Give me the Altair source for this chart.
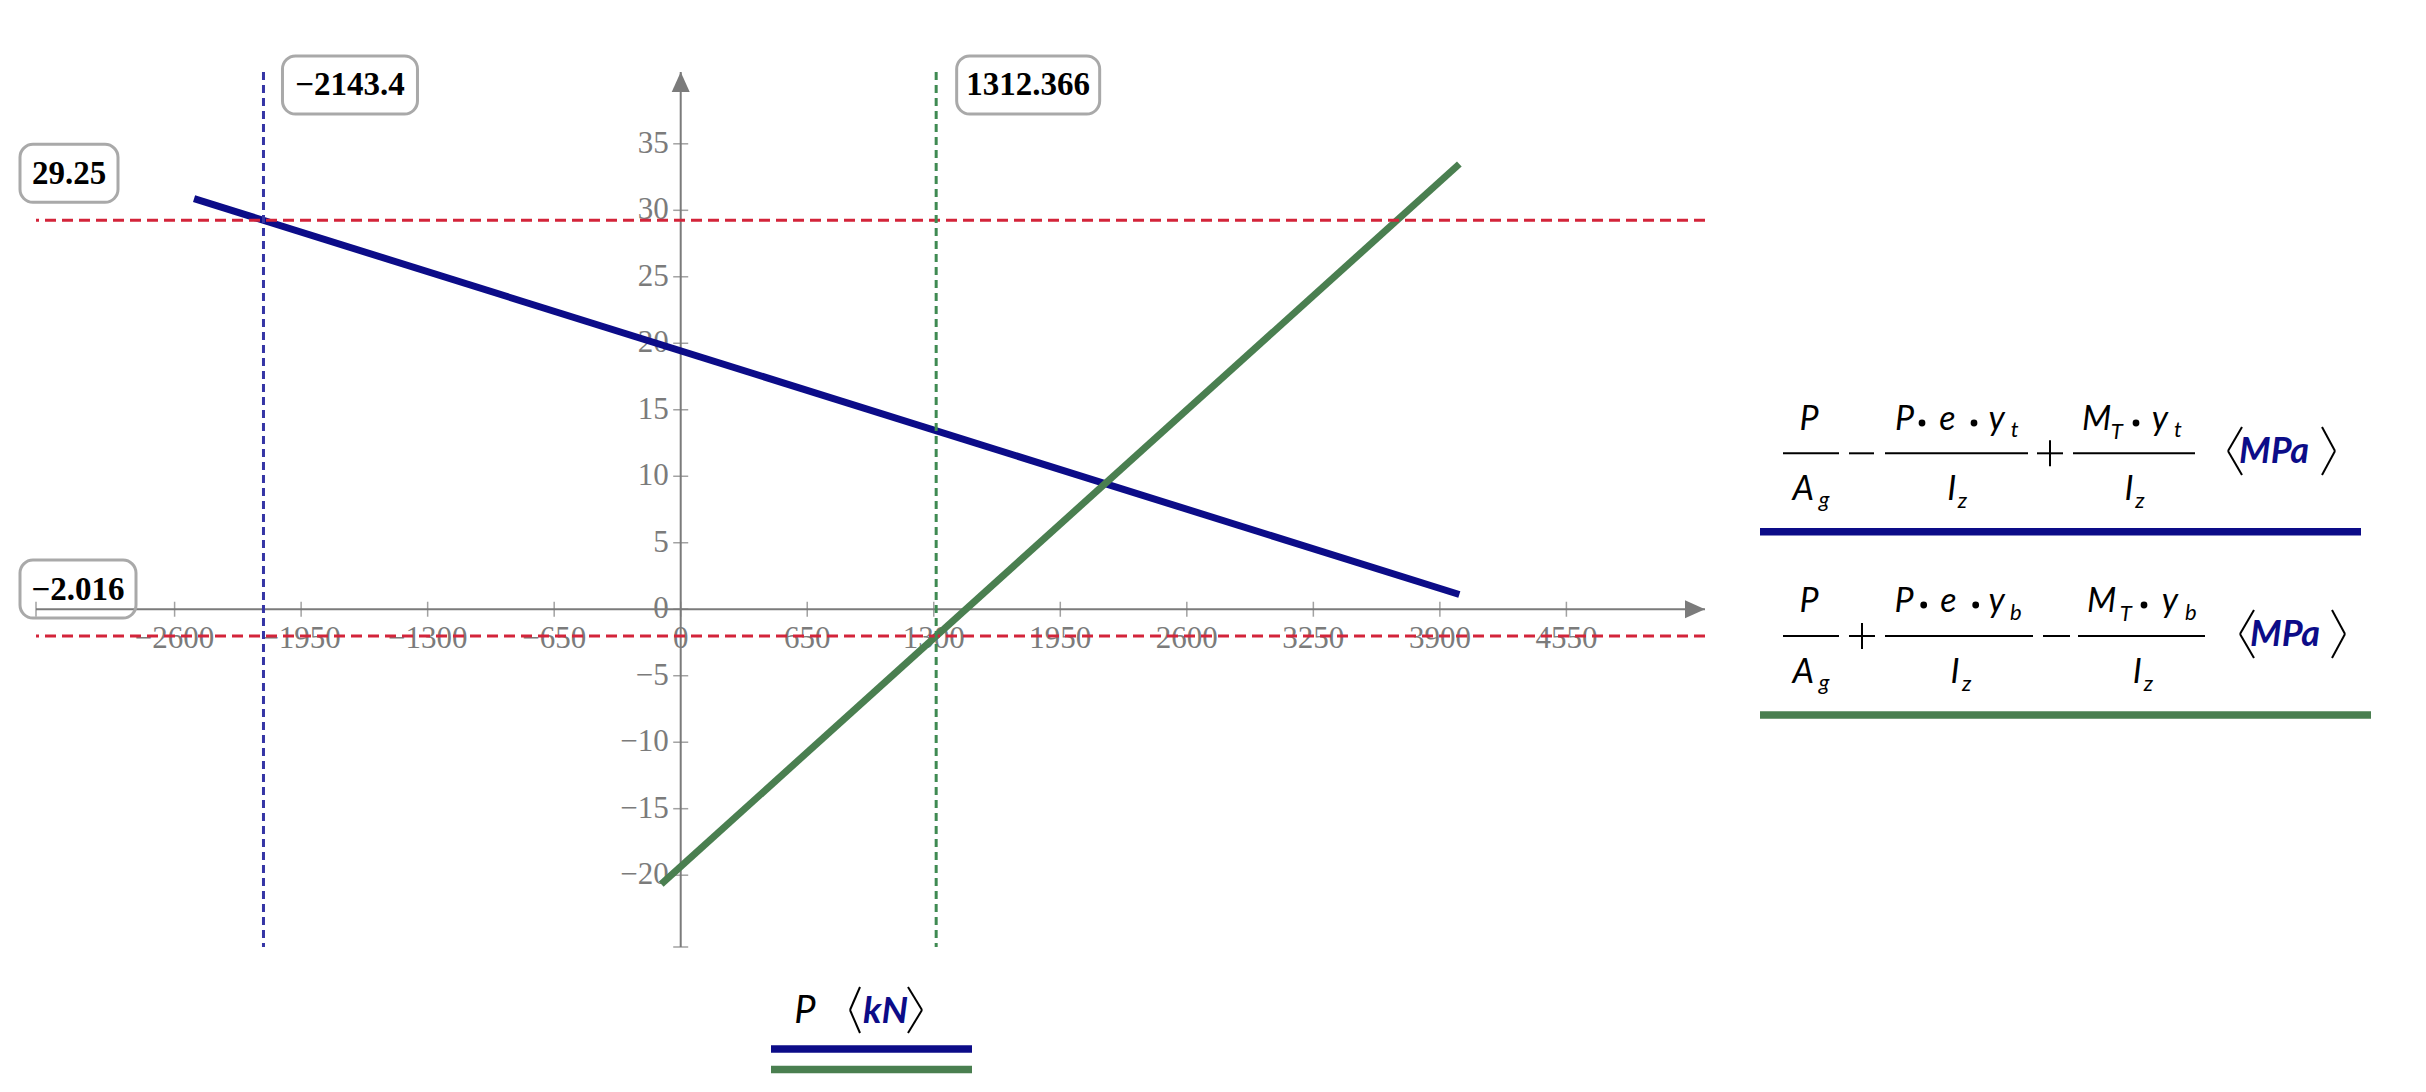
import altair as alt
import pandas as pd

# ---------------- data ----------------
p_top = [-2500, 4000]              # P (kN) – top fibre stress line
stress_top = [30.88, 1.11]         # MPa
p_bot = [-100, 4000]               # P (kN) – bottom fibre stress line
stress_bot = [-20.67, 33.48]       # MPa

stress_limits = [29.25, -2.016]    # horizontal red limits (MPa)
p_limits = [-2143.4, 1312.366]     # vertical limits (kN)

x_ticks = [-2600, -1950, -1300, -650, 0, 650, 1300, 1950, 2600, 3250, 3900, 4550]
y_ticks = [-20, -15, -10, -5, 0, 5, 10, 15, 20, 25, 30, 35]
x_range = [-3312, 5262]
y_range = [-25.4, 40.4]


def fmt(v):
    return str(v).replace("-", "\u2212")


# ---------------- style ----------------
NAVY = "#0c0c88"
GREEN = "#4a7f50"
RED = "#d3243a"
BLUE_DASH = "#3535a5"
GREEN_DASH = "#3f8a52"
AXIS = "#7b7b7b"
BOX = "#a9a9a9"
SERIF = "Liberation Serif"
SANS = "Lato"

xs = alt.Scale(domain=x_range, nice=False, zero=False)
ys = alt.Scale(domain=y_range, nice=False, zero=False)


def X(f):
    return alt.X(f, scale=xs, axis=None)


def Y(f):
    return alt.Y(f, scale=ys, axis=None)


layers = []

# ---- axes ----
ax_x = pd.DataFrame({"a": [x_range[0]], "b": [x_range[1]], "y0": [0]})
layers.append(alt.Chart(ax_x).mark_rule(color=AXIS, strokeWidth=2).encode(
    x=X("a:Q"), x2=alt.X2("b"), y=Y("y0:Q")))
ax_y = pd.DataFrame({"a": [y_range[0]], "b": [y_range[1]], "x0": [0]})
layers.append(alt.Chart(ax_y).mark_rule(color=AXIS, strokeWidth=2).encode(
    y=Y("a:Q"), y2=alt.Y2("b"), x=X("x0:Q")))

xt = pd.DataFrame({"p": x_ticks + [x_range[0]], "y0": 0})
layers.append(alt.Chart(xt).mark_tick(orient="vertical", size=15, thickness=1.5, color=AXIS).encode(
    x=X("p:Q"), y=Y("y0:Q")))
yt = pd.DataFrame({"f": y_ticks + [y_range[0]], "x0": 0})
layers.append(alt.Chart(yt).mark_tick(orient="horizontal", size=15, thickness=1.5, color=AXIS).encode(
    y=Y("f:Q"), x=X("x0:Q")))

xl = pd.DataFrame({"p": x_ticks, "y0": 0, "lab": [fmt(v) for v in x_ticks]})
layers.append(alt.Chart(xl).mark_text(font=SERIF, fontSize=31, color=AXIS, align="center",
                                      baseline="alphabetic", dy=39).encode(
    x=X("p:Q"), y=Y("y0:Q"), text="lab:N"))
yl = pd.DataFrame({"f": y_ticks, "x0": 0, "lab": [fmt(v) for v in y_ticks]})
layers.append(alt.Chart(yl).mark_text(font=SERIF, fontSize=31, color=AXIS, align="right",
                                      baseline="middle", dx=-12).encode(
    y=Y("f:Q"), x=X("x0:Q"), text="lab:N"))

# arrow heads
arr_x = pd.DataFrame({"p": [x_range[1]], "y0": [0]})
layers.append(alt.Chart(arr_x).mark_point(shape="M0,0L-2,-0.9L-2,0.9Z", size=400, filled=True,
                                          opacity=1, color=AXIS, strokeWidth=0).encode(
    x=X("p:Q"), y=Y("y0:Q")))
arr_y = pd.DataFrame({"f": [y_range[1]], "x0": [0]})
layers.append(alt.Chart(arr_y).mark_point(shape="M0,0L-0.9,2L0.9,2Z", size=400, filled=True,
                                          opacity=1, color=AXIS, strokeWidth=0).encode(
    y=Y("f:Q"), x=X("x0:Q")))

# ---- stress lines ----
layers.append(alt.Chart(pd.DataFrame({"P": p_top, "f": stress_top})).mark_line(
    color=NAVY, strokeWidth=7).encode(x=X("P:Q"), y=Y("f:Q")))
layers.append(alt.Chart(pd.DataFrame({"P": p_bot, "f": stress_bot})).mark_line(
    color=GREEN, strokeWidth=7).encode(x=X("P:Q"), y=Y("f:Q")))

# ---- limit lines ----
layers.append(alt.Chart(pd.DataFrame({"f": stress_limits})).mark_rule(
    color=RED, strokeWidth=3, strokeDash=[11, 6]).encode(y=Y("f:Q")))
layers.append(alt.Chart(pd.DataFrame({"p": [p_limits[0]]})).mark_rule(
    color=BLUE_DASH, strokeWidth=3, strokeDash=[8, 5]).encode(x=X("p:Q")))
layers.append(alt.Chart(pd.DataFrame({"p": [p_limits[1]]})).mark_rule(
    color=GREEN_DASH, strokeWidth=3, strokeDash=[8, 5]).encode(x=X("p:Q")))

# ---- value boxes ----
for val, w in zip(stress_limits, [98, 116]):
    d = pd.DataFrame({"f": [val], "lab": [fmt(val)]})
    layers.append(alt.Chart(d).mark_rect(yOffset=-76, y2Offset=-18, cornerRadius=13, filled=False,
                                         stroke=BOX, strokeWidth=3).encode(
        x=alt.value(-16), x2=alt.value(-16 + w), y=Y("f:Q"), y2=alt.Y2("f")))
    layers.append(alt.Chart(d).mark_text(font=SERIF, fontWeight="bold", fontSize=33, color="black",
                                         align="center", baseline="middle", dy=-46).encode(
        x=alt.value(-16 + w / 2), y=Y("f:Q"), text="lab:N"))

for val, (o1, o2) in zip(p_limits, [(19, 154), (20.5, 163.5)]):
    d = pd.DataFrame({"p": [val], "lab": [fmt(val)]})
    layers.append(alt.Chart(d).mark_rect(xOffset=o1, x2Offset=o2, cornerRadius=13, filled=False,
                                         stroke=BOX, strokeWidth=3).encode(
        x=X("p:Q"), x2=alt.X2("p"), y=alt.value(-16), y2=alt.value(42)))
    layers.append(alt.Chart(d).mark_text(font=SERIF, fontWeight="bold", fontSize=33, color="black",
                                         align="center", baseline="middle", dx=(o1 + o2) / 2).encode(
        x=X("p:Q"), y=alt.value(13), text="lab:N"))

# ---- legend / formula annotations ----
ONE = pd.DataFrame({"k": [0]})
FS = 34
SUB = 22


def T(s, x, y, size=FS, color="black", weight="normal", align="center", style="italic"):
    return alt.Chart(ONE).mark_text(text=s, font=SANS, fontSize=size, fontStyle=style,
                                    fontWeight=weight, color=color, align=align,
                                    baseline="alphabetic").encode(
        x=alt.value(x), y=alt.value(y))


def R(x1, y1, x2, y2, w=2, color="black"):
    return alt.Chart(ONE).mark_rule(color=color, strokeWidth=w).encode(
        x=alt.value(x1), y=alt.value(y1), x2=alt.value(x2), y2=alt.value(y2))


def DOT(x, y):
    return alt.Chart(ONE).mark_point(shape="circle", filled=True, size=46, opacity=1,
                                     color="black", strokeWidth=0).encode(
        x=alt.value(x), y=alt.value(y))


# formula 1 : P/Ag - P e yt / Iz + MT yt / Iz
N1, B1, D1 = 358, 381.3, 428
f1 = [
    T("P", 1773, N1), R(1747, B1, 1803, B1),
    T("A", 1767.3, D1), T("g", 1788, D1 + 7, SUB),
    R(1813, B1, 1838, B1),
    R(1849, B1, 1992, B1),
    T("P", 1868.5, N1), DOT(1886, N1 - 7), T("e", 1911.3, N1),
    DOT(1938, N1 - 7), T("y", 1960.7, N1), T("t", 1978.7, N1 + 7, SUB),
    T("I", 1915.7, D1), T("z", 1926.5, D1 + 8, SUB),
    R(2001, B1, 2027, B1), R(2014, B1 - 13, 2014, B1 + 13),
    R(2037, B1, 2159, B1),
    T("M", 2060.7, N1), T("T", 2080.7, N1 + 9, SUB), DOT(2100, N1 - 7),
    T("y", 2124, N1), T("t", 2142, N1 + 7, SUB),
    T("I", 2093, D1), T("z", 2104, D1 + 8, SUB),
    R(2206, 355, 2192, 379), R(2192, 379, 2206, 403),
    R(2286, 355, 2299, 379), R(2299, 379, 2286, 403),
    T("MPa", 2203, 391, 36, NAVY, "bold", "left"),
    R(1724, 459.8, 2325, 459.8, 7.5, NAVY),
]

# formula 2 : P/Ag + P e yb / Iz - MT yb / Iz
N2, B2, D2 = 540, 564, 610.7
f2 = [
    T("P", 1773, N2), R(1747, B2, 1803, B2),
    T("A", 1767.3, D2), T("g", 1788, D2 + 7, SUB),
    R(1813, B2, 1839, B2), R(1826, B2 - 13, 1826, B2 + 13),
    R(1849, B2, 1997, B2),
    T("P", 1868, N2), DOT(1887.7, N2 - 7), T("e", 1912.3, N2),
    DOT(1939.7, N2 - 7), T("y", 1960.7, N2), T("b", 1979.7, N2 + 8, SUB),
    T("I", 1919, D2), T("z", 1930.7, D2 + 8, SUB),
    R(2007, B2, 2034, B2),
    R(2042, B2, 2169, B2),
    T("M", 2065.7, N2), T("T", 2089.7, N2 + 9, SUB), DOT(2108, N2 - 7),
    T("y", 2134, N2), T("b", 2154.7, N2 + 8, SUB),
    T("I", 2101.3, D2), T("z", 2112.3, D2 + 8, SUB),
    R(2218, 538, 2204, 562), R(2204, 562, 2218, 586),
    R(2296, 538, 2309, 562), R(2309, 562, 2296, 586),
    T("MPa", 2214, 574, 36, NAVY, "bold", "left"),
    R(1724, 643, 2335, 643, 7.5, GREEN),
]

# x-axis title : P <kN>
xt_title = [
    T("P", 769, 951, 38),
    R(824, 915, 814, 938), R(814, 938, 824, 961),
    T("kN", 827, 951, 37, NAVY, "bold", "left"),
    R(872, 915, 886, 938), R(886, 938, 872, 961),
    R(735, 977, 936, 977, 7.5, NAVY),
    R(735, 997.5, 936, 997.5, 7.5, GREEN),
]

layers += f1 + f2 + xt_title

chart = alt.layer(*layers).properties(
    width=1669,
    height=875,
    padding={"left": 28, "top": 64, "right": 700, "bottom": 130},
    autosize=alt.AutoSizeParams(type="none"),
    background="white",
).configure_view(stroke=None)

chart.save("out.html", embed_options={"renderer": "svg", "actions": False})
